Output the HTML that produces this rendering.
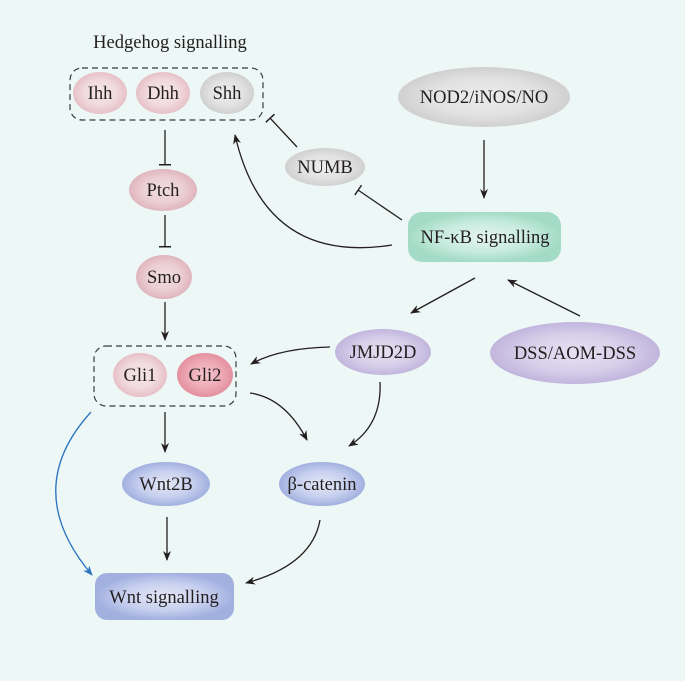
<!DOCTYPE html>
<html><head><meta charset="utf-8"><style>
html,body{margin:0;padding:0;background:#fff;}
svg{display:block;}
text{font-family:"Liberation Serif",serif;fill:#231f20;font-size:18.5px;}
</style></head><body>
<svg width="685" height="683" viewBox="0 0 685 683" xmlns="http://www.w3.org/2000/svg">
<defs>
<radialGradient id="pink"><stop offset="0" stop-color="#f6e6e9"/><stop offset="0.6" stop-color="#f0dade"/><stop offset="1" stop-color="#e6c0c7"/></radialGradient>
<radialGradient id="pink2"><stop offset="0" stop-color="#f0dde0"/><stop offset="0.6" stop-color="#ebcfd4"/><stop offset="1" stop-color="#e0b5bd"/></radialGradient>
<radialGradient id="red"><stop offset="0" stop-color="#f3c3cb"/><stop offset="0.6" stop-color="#eeaab5"/><stop offset="1" stop-color="#e48 f9f"/></radialGradient>
<radialGradient id="red2"><stop offset="0" stop-color="#f3c3cb"/><stop offset="0.6" stop-color="#eeaab5"/><stop offset="1" stop-color="#e38f9e"/></radialGradient>
<radialGradient id="grey"><stop offset="0" stop-color="#ececec"/><stop offset="0.6" stop-color="#e2e2e2"/><stop offset="1" stop-color="#d0d0d0"/></radialGradient>
<radialGradient id="blue"><stop offset="0" stop-color="#e4e8f6"/><stop offset="0.6" stop-color="#c6cfee"/><stop offset="1" stop-color="#a2b0e0"/></radialGradient>
<radialGradient id="purple"><stop offset="0" stop-color="#e6e1f1"/><stop offset="0.6" stop-color="#d7cfea"/><stop offset="1" stop-color="#c1b5dd"/></radialGradient>
<radialGradient id="green"><stop offset="0" stop-color="#e4f5ef"/><stop offset="0.6" stop-color="#c7ebde"/><stop offset="1" stop-color="#a3dbc6"/></radialGradient>
<marker id="ar" markerWidth="10" markerHeight="8" refX="9" refY="4" orient="auto" markerUnits="userSpaceOnUse"><path d="M0,0 L10,4 L0,8 L3,4 z" fill="#231f20"/></marker>
<marker id="arb" markerWidth="10" markerHeight="8" refX="9" refY="4" orient="auto" markerUnits="userSpaceOnUse"><path d="M0,0 L10,4 L0,8 L3,4 z" fill="#2a74c0"/></marker>
<marker id="bar" markerWidth="2" markerHeight="12" refX="1" refY="6" orient="auto" markerUnits="userSpaceOnUse"><rect x="0" y="0" width="1.5" height="12" fill="#231f20"/></marker>
</defs>
<rect x="0" y="0" width="685" height="681" fill="#edf7f6"/>
<text x="170" y="48" text-anchor="middle">Hedgehog signalling</text>
<rect x="70" y="68" width="193" height="52" rx="12" fill="none" stroke="#3a3a3a" stroke-width="1.2" stroke-dasharray="6,4"/>
<ellipse cx="100" cy="93" rx="27" ry="21" fill="url(#pink)"/>
<ellipse cx="163" cy="93" rx="27" ry="21" fill="url(#pink)"/>
<ellipse cx="227" cy="93" rx="27" ry="21" fill="url(#grey)"/>
<text x="100" y="99" text-anchor="middle">Ihh</text>
<text x="163" y="99" text-anchor="middle">Dhh</text>
<text x="227" y="99" text-anchor="middle">Shh</text>
<line x1="165" y1="130" x2="165" y2="165" stroke="#231f20" stroke-width="1.3" marker-end="url(#bar)"/>
<ellipse cx="163" cy="190" rx="34" ry="21" fill="url(#pink2)"/>
<text x="163" y="196" text-anchor="middle">Ptch</text>
<line x1="165" y1="215" x2="165" y2="247" stroke="#231f20" stroke-width="1.3" marker-end="url(#bar)"/>
<ellipse cx="164" cy="277" rx="28" ry="22" fill="url(#pink2)"/>
<text x="164" y="283" text-anchor="middle">Smo</text>
<line x1="165" y1="302" x2="165" y2="340" stroke="#231f20" stroke-width="1.3" marker-end="url(#ar)"/>
<rect x="94" y="346" width="142" height="60" rx="12" fill="none" stroke="#3a3a3a" stroke-width="1.2" stroke-dasharray="6,4"/>
<ellipse cx="140" cy="375" rx="27" ry="22" fill="url(#pink)"/>
<ellipse cx="205" cy="375" rx="28" ry="22" fill="url(#red2)"/>
<text x="140" y="381" text-anchor="middle">Gli1</text>
<text x="205" y="381" text-anchor="middle">Gli2</text>
<line x1="165" y1="412" x2="165" y2="452" stroke="#231f20" stroke-width="1.3" marker-end="url(#ar)"/>
<ellipse cx="166" cy="484" rx="44" ry="22" fill="url(#blue)"/>
<text x="166" y="490" text-anchor="middle">Wnt2B</text>
<line x1="167" y1="517" x2="167" y2="560" stroke="#231f20" stroke-width="1.3" marker-end="url(#ar)"/>
<rect x="95" y="573" width="139" height="47" rx="12" fill="url(#blue)"/>
<text x="164" y="603" text-anchor="middle">Wnt signalling</text>
<ellipse cx="322" cy="484" rx="43" ry="22" fill="url(#blue)"/>
<text x="322" y="490" text-anchor="middle">β-catenin</text>
<path d="M250,393 Q285,398 307,440" fill="none" stroke="#231f20" stroke-width="1.3" marker-end="url(#ar)"/>
<ellipse cx="383" cy="352" rx="48" ry="23" fill="url(#purple)"/>
<text x="383" y="358" text-anchor="middle">JMJD2D</text>
<path d="M330,347 Q280,348 251,364" fill="none" stroke="#231f20" stroke-width="1.3" marker-end="url(#ar)"/>
<path d="M380,382 Q382,425 349,446" fill="none" stroke="#231f20" stroke-width="1.3" marker-end="url(#ar)"/>
<path d="M320,520 Q312,565 246,583" fill="none" stroke="#231f20" stroke-width="1.3" marker-end="url(#ar)"/>
<path d="M91,412 Q20,490 92,575" fill="none" stroke="#2a74c0" stroke-width="1.3" marker-end="url(#arb)"/>
<ellipse cx="484" cy="97" rx="86" ry="30" fill="url(#grey)"/>
<text x="484" y="103" text-anchor="middle">NOD2/iNOS/NO</text>
<line x1="484" y1="140" x2="484" y2="198" stroke="#231f20" stroke-width="1.3" marker-end="url(#ar)"/>
<rect x="408" y="212" width="153" height="50" rx="14" fill="url(#green)"/>
<text x="485" y="243" text-anchor="middle">NF-κB signalling</text>
<ellipse cx="575" cy="353" rx="85" ry="31" fill="url(#purple)"/>
<text x="575" y="359" text-anchor="middle">DSS/AOM-DSS</text>
<line x1="580" y1="316" x2="508" y2="280" stroke="#231f20" stroke-width="1.3" marker-end="url(#ar)"/>
<line x1="475" y1="278" x2="411" y2="313" stroke="#231f20" stroke-width="1.3" marker-end="url(#ar)"/>
<ellipse cx="325" cy="167" rx="40" ry="19" fill="url(#grey)"/>
<text x="325" y="173" text-anchor="middle">NUMB</text>
<line x1="297" y1="147" x2="270" y2="118" stroke="#231f20" stroke-width="1.3" marker-end="url(#bar)"/>
<line x1="402" y1="220" x2="358" y2="190" stroke="#231f20" stroke-width="1.3" marker-end="url(#bar)"/>
<path d="M392,245 Q265,265 235,135" fill="none" stroke="#231f20" stroke-width="1.3" marker-end="url(#ar)"/>
</svg>
</body></html>
